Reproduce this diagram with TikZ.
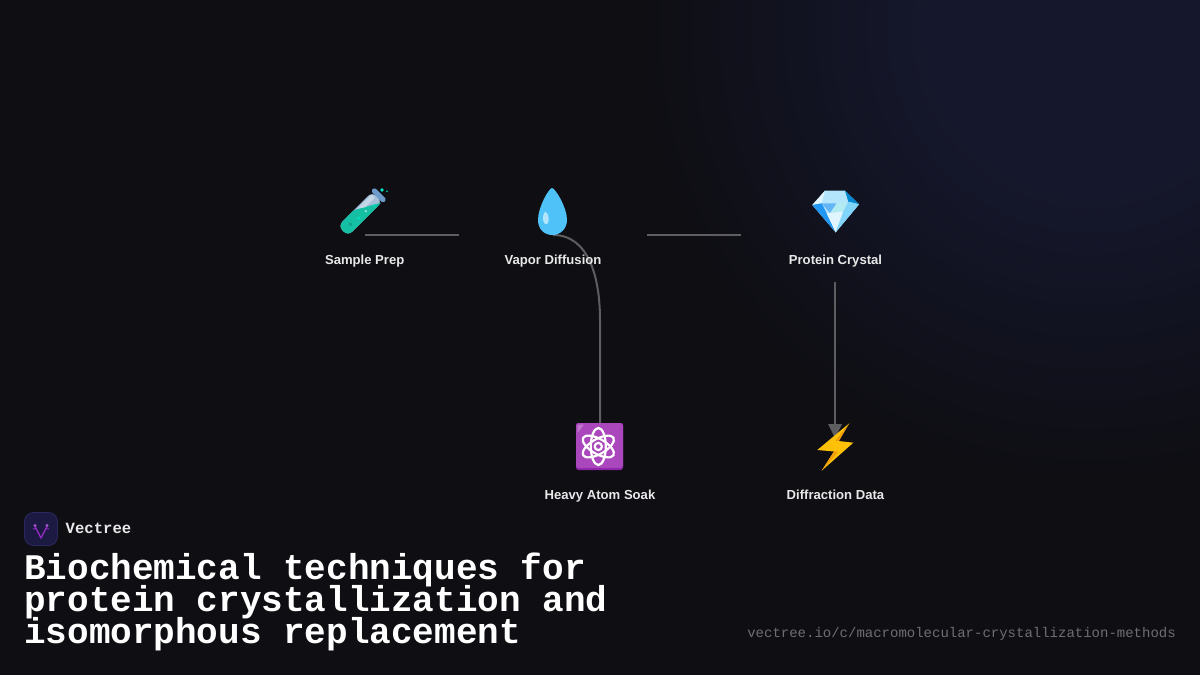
\documentclass[tikz,border=0pt]{standalone}
\usepackage{fontspec}
\setmainfont{Liberation Sans}
\newfontfamily\monofam{Liberation Mono}
\usetikzlibrary{arrows.meta}
\definecolor{bgbase}{HTML}{0E0E13}
\definecolor{bgglow}{HTML}{15172C}
\definecolor{wire}{HTML}{5E5E60}
\definecolor{labelc}{HTML}{E8E8E8}
\definecolor{urlc}{HTML}{6E6E73}
\definecolor{tealliq}{HTML}{14BFA3}
\definecolor{tealdk}{HTML}{0B8F7C}
\definecolor{glass}{HTML}{A5BFD9}
\definecolor{rim}{HTML}{6C9BCB}
\definecolor{mint}{HTML}{00E5C3}
\definecolor{drop}{HTML}{4FC3F7}
\definecolor{droplt}{HTML}{B3E5FC}
\definecolor{dA}{HTML}{B3E5FC}
\definecolor{dB}{HTML}{E1F5FE}
\definecolor{dC}{HTML}{64B5F6}
\definecolor{dD}{HTML}{B2EBF2}
\definecolor{dE}{HTML}{0288D1}
\definecolor{dF}{HTML}{2196F3}
\definecolor{dG}{HTML}{81D4FA}
\definecolor{atomA}{HTML}{AB47BC}
\definecolor{atomB}{HTML}{8E24AA}
\definecolor{boltA}{HTML}{FFC107}
\definecolor{boltB}{HTML}{F59E0B}
\definecolor{logoF}{HTML}{1C1A42}
\definecolor{logoD}{HTML}{2B2860}
\definecolor{logoV}{HTML}{8E2BC0}
\pgfdeclareradialshading{glowshade}{\pgfpoint{0bp}{0bp}}{
 color(0bp)=(bgglow); color(9bp)=(bgglow); color(25bp)=(bgbase); color(50bp)=(bgbase)}
\tikzset{
 nodelabel/.style={font=\bfseries\fontsize{13.1}{15}\selectfont,text=labelc,inner sep=0pt,anchor=base},
 titleline/.style={font=\monofam\bfseries\fontsize{36}{36}\selectfont,text=white,inner sep=0pt,anchor=base west},
 wireline/.style={draw=wire,line width=2pt},
}
\begin{document}
\begin{tikzpicture}[x=1pt,y=-1pt]
\useasboundingbox (0,0) rectangle (1200,675);
\fill[bgbase] (0,0) rectangle (1200,675);
\begin{scope}
\clip (0,0) rectangle (1200,675);
\shade[shading=glowshade] (1090,30) circle (450);
\end{scope}
% anchor coordinates
\coordinate (a1) at (365,235);
\coordinate (a2) at (459,235);
\coordinate (b1) at (647,235);
\coordinate (b2) at (741,235);
\coordinate (c1) at (553,235);
\coordinate (c2) at (600,424);
\coordinate (d1) at (835,282);
\coordinate (d2) at (835,424);
% connectors
\draw[wireline] (a1) -- (a2);
\draw[wireline] (b1) -- (b2);
\draw[wireline] (c1) .. controls (589,235) and (600,278) .. (600,320) -- (c2);
\draw[wireline] (d1) -- (d2);
\fill[wire] (828,424) -- (842,424) -- (835,438) -- cycle;
% test tube
\begin{scope}[shift={(348,226)},rotate=45]
 \fill[glass,rounded corners=6pt] (-7,-7) -- (41.5,-7) -- (41.5,7) -- (-7,7) -- cycle;
 \fill[tealliq,rounded corners=6pt] (-7,-7) -- (15,-7) -- (40,7) -- (-7,7) -- cycle;
 \fill[tealliq] (5,-7) -- (15,-7) -- (40,7) -- (5,7) -- cycle;
 \fill[tealdk,opacity=.6] (3,.5) circle (1.8);
 \fill[white!70!tealliq] (23,2) circle (1.2);
 \fill[mint] (13,2) circle (1.6);
 \fill[mint] (33,4) circle (1.4);
 \fill[white,opacity=.35] (19,-5.5) -- (39,-5.5) -- (39,-1) -- (25,-1) -- cycle;
 \fill[rim,rounded corners=1.5pt] (41,-8.5) rectangle (46,8.5);
\end{scope}
\fill[mint] (382,190) circle (1.9);
\fill[mint] (387,191.2) circle (.9);
% droplet
\fill[drop] (552,188)
 .. controls (555,188) and (567,207) .. (567,220)
 .. controls (567,229) and (560,235) .. (552.5,235)
 .. controls (544,235) and (538,229) .. (538,220)
 .. controls (538,207) and (549,188) .. (552,188) -- cycle;
\fill[droplt] (545.5,212) .. controls (548.5,213) and (549.5,219) .. (548,223)
 .. controls (546,226) and (543,223) .. (543,219) .. controls (543,215) and (544,212) .. (545.5,212) -- cycle;
% diamond
\fill[dA] (825,190.7) -- (845,190.7) -- (859,204.3) -- (835.7,232.3) -- (812.3,205) -- cycle;
\fill[dB] (825,190.7) -- (812.3,205) -- (821.7,203.3) -- cycle;
\fill[dC] (821.7,203.3) -- (836.7,203.3) -- (830,213.3) -- cycle;
\fill[dD] (836.7,203.3) -- (846.7,200.7) -- (843.3,211.7) -- (830,213.3) -- cycle;
\fill[dE] (845,190.7) -- (859,204.3) -- (848.3,201.7) -- cycle;
\fill[dF] (812.3,205) -- (821.7,203.3) -- (826.7,213.3) -- (835.7,232.3) -- cycle;
\fill[dB] (826.7,213.3) -- (843.3,211.7) -- (835.7,232.3) -- cycle;
\fill[dG] (843.3,211.7) -- (848.3,201.7) -- (859,204.3) -- (835.7,232.3) -- cycle;
% atom
\fill[atomB,rounded corners=2.5pt] (576,423) rectangle (623,470);
\fill[atomA,rounded corners=2.5pt] (576,423) rectangle (623,468);
\fill[white,opacity=.25] (577.5,424.5) -- (584,424.5) -- (577.5,433) -- cycle;
\begin{scope}[shift={(598.3,446.5)},draw=white,line width=2.2pt]
 \draw[rotate=30] (0,0) ellipse[x radius=17.5,y radius=7.5];
 \draw[rotate=-30] (0,0) ellipse[x radius=17.5,y radius=7.5];
 \draw[rotate=90] (0,0) ellipse[x radius=18.5,y radius=7.5];
 \draw (0,0) circle (3.6);
\end{scope}
% lightning
\fill[boltA] (849.3,423.3) -- (817.3,450) -- (834,451.5) -- (821.7,470.7) -- (853.3,442.7) -- (836,440.7) -- cycle;
\fill[boltB] (834,451.5) -- (821.7,470.7) -- (838,452) -- cycle;
\fill[boltB] (849.3,423.3) -- (836,440.7) -- (839,441) -- cycle;
% labels
\node[nodelabel] (lab1) at (364.7,264) {Sample Prep};
\node[nodelabel] (lab2) at (553,264) {Vapor Diffusion};
\node[nodelabel] (lab3) at (835.5,264) {Protein Crystal};
\node[nodelabel] (lab4) at (600,499) {Heavy Atom Soak};
\node[nodelabel] (lab5) at (835.5,499) {Diffraction Data};
% logo
\fill[logoF,draw=logoD,line width=.8pt,rounded corners=9pt] (24.5,512.5) rectangle (57.5,545.5);
\draw[draw=logoV,line width=1.4pt,line join=round] (35,526.5) -- (41,538) -- (47,526.5);
\draw[draw=logoV,line width=1pt] (33,529) -- (37,528.5) (49,529) -- (45,528.5);
\fill[logoV!80!white] (35,525.5) circle (1.7) (47,525.5) circle (1.7);
\node[font=\monofam\bfseries\fontsize{15.6}{16}\selectfont,text=labelc,inner sep=0pt,anchor=base west] (brand) at (65.5,533) {Vectree};
% title
\node[titleline] (t1) at (24,579) {Biochemical techniques for};
\node[titleline] (t2) at (24,611.4) {protein crystallization and};
\node[titleline] (t3) at (24,643.8) {isomorphous replacement};
\node[font=\monofam\fontsize{14}{14}\selectfont,text=urlc,inner sep=0pt,anchor=base east] (url) at (1176,637) {vectree.io/c/macromolecular-crystallization-methods};
\end{tikzpicture}
\end{document}
